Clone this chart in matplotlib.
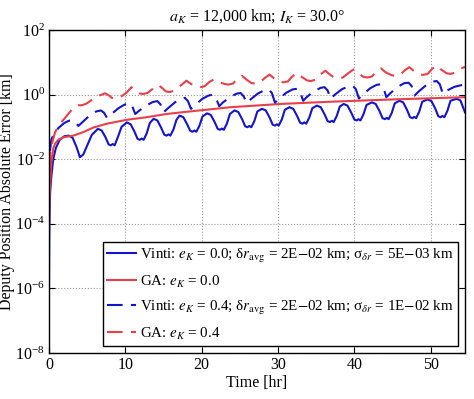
import numpy as np
import matplotlib
matplotlib.use("Agg")
import matplotlib.pyplot as plt
from matplotlib.ticker import FixedLocator, LogFormatterSciNotation

plt.rcParams['font.family'] = ['Liberation Serif', 'DejaVu Serif']
plt.rcParams['mathtext.fontset'] = 'stix'

# values: time [hr], log10 of error [km]
t_vinti0 = [0.0, 0.03, 0.08, 0.15, 0.3, 0.55, 0.9, 1.4, 2.0, 2.6,
            3.1, 3.6, 4.05, 4.5, 5.0, 5.6, 6.4,
            6.9, 7.4, 7.8, 8.1, 8.35, 8.6, 9.0, 9.5, 10.2,
            10.7, 11.2, 11.6, 11.9, 12.15, 12.4, 12.8, 13.2, 13.7,
            14.2, 14.7, 15.1, 15.4, 15.65, 15.9, 16.3, 16.7, 17.1,
            17.6, 18.1, 18.5, 18.8, 19.05, 19.3, 19.7, 20.1, 20.7,
            21.2, 21.7, 22.1, 22.4, 22.65, 22.9, 23.3, 23.7, 24.3,
            24.8, 25.3, 25.7, 26.0, 26.25, 26.5, 26.9, 27.3, 27.9,
            28.4, 28.9, 29.3, 29.6, 29.85, 30.1, 30.5, 30.9, 31.5,
            32.0, 32.5, 32.9, 33.2, 33.45, 33.7, 34.1, 34.5, 35.1,
            35.6, 36.1, 36.5, 36.8, 37.05, 37.3, 37.7, 38.1, 38.6,
            39.1, 39.6, 40.0, 40.3, 40.55, 40.8, 41.2, 41.6, 42.3,
            42.8, 43.3, 43.7, 44.0, 44.25, 44.5, 44.9, 45.3, 45.9,
            46.4, 46.9, 47.3, 47.6, 47.85, 48.1, 48.5, 48.9, 49.6,
            50.1, 50.6, 51.0, 51.3, 51.55, 51.8, 52.2, 52.6, 53.4,
            53.9, 54.5]
e_vinti0 = [-5.95, -4.5, -3.6, -3.0, -2.55, -2.0, -1.65, -1.40, -1.29, -1.27,
            -1.34, -1.62, -1.94, -1.85, -1.58, -1.25, -1.06,
            -1.11, -1.32, -1.54, -1.57, -1.53, -1.57, -1.33, -1.00, -0.86,
            -0.92, -1.15, -1.37, -1.40, -1.36, -1.40, -1.20, -0.88, -0.75,
            -0.80, -1.03, -1.24, -1.27, -1.23, -1.27, -1.08, -0.78, -0.65,
            -0.70, -0.92, -1.12, -1.15, -1.11, -1.15, -0.97, -0.68, -0.58,
            -0.63, -0.85, -1.06, -1.09, -1.05, -1.09, -0.90, -0.60, -0.49,
            -0.54, -0.76, -0.98, -1.01, -0.97, -1.01, -0.82, -0.52, -0.44,
            -0.49, -0.71, -0.93, -0.96, -0.92, -0.96, -0.77, -0.47, -0.39,
            -0.44, -0.66, -0.87, -0.90, -0.86, -0.90, -0.71, -0.42, -0.34,
            -0.39, -0.61, -0.82, -0.85, -0.81, -0.85, -0.66, -0.37, -0.29,
            -0.34, -0.56, -0.77, -0.80, -0.76, -0.80, -0.61, -0.32, -0.24,
            -0.29, -0.51, -0.73, -0.76, -0.72, -0.76, -0.57, -0.27, -0.19,
            -0.24, -0.47, -0.70, -0.73, -0.69, -0.73, -0.53, -0.22, -0.15,
            -0.20, -0.43, -0.67, -0.70, -0.66, -0.70, -0.50, -0.19, -0.13,
            -0.18, -0.55]

t_ga0 = [0.0, 0.05, 0.13, 0.3, 0.57, 0.8, 1.2, 1.9, 3.2, 4.5, 5.8, 7.6,
         10.2, 12.8, 15.4, 18.1, 23.8, 30.3, 36.9, 45.0, 54.5]
e_ga0 = [-4.15, -3.4, -2.85, -2.1, -1.65, -1.52, -1.40, -1.32, -1.27, -1.16,
         -1.02, -0.90, -0.78, -0.70, -0.60, -0.53, -0.39, -0.29, -0.22, -0.15, -0.08]

t_vinti4 = [0.0, 0.1, 0.3, 0.7, 1.3, 2.0, 2.6, 3.05, 3.45, 3.85,
            4.35, 5.35, 6.2, 6.8, 7.2, 7.6,
            8.1, 9.1, 9.9, 10.5, 10.9, 11.3,
            11.8, 12.8, 13.6, 14.2, 14.6, 15.0,
            15.5, 16.5, 17.3, 17.8, 18.2, 18.6,
            19.1, 20.1, 20.9, 21.5, 21.9, 22.3,
            22.8, 23.8, 24.6, 25.1, 25.5, 25.9,
            26.4, 27.4, 28.2, 28.8, 29.2, 29.6,
            30.1, 31.1, 31.9, 32.5, 32.9, 33.3,
            33.8, 34.8, 35.6, 36.1, 36.5, 36.9,
            37.4, 38.4, 39.2, 39.8, 40.2, 40.6,
            41.1, 42.1, 42.9, 43.4, 43.8, 44.2,
            44.7, 45.7, 46.5, 47.1, 47.5, 47.9,
            48.4, 49.4, 50.2, 50.8, 51.2, 51.6,
            52.1, 53.1, 54.5]
e_vinti4 = [-2.5, -1.8, -1.4, -1.18, -1.02, -0.88, -0.81, -0.80, -0.86, -0.97,
            -0.86, -0.64, -0.52, -0.49, -0.56, -0.72,
            -0.62, -0.42, -0.31, -0.26, -0.36, -0.60,
            -0.50, -0.33, -0.23, -0.20, -0.30, -0.55,
            -0.44, -0.24, -0.13, -0.10, -0.20, -0.44,
            -0.33, -0.13, -0.03, 0.00, -0.12, -0.36,
            -0.24, -0.06, 0.03, 0.05, -0.05, -0.26,
            -0.15, 0.04, 0.13, 0.16, 0.05, -0.25,
            -0.13, 0.06, 0.16, 0.18, 0.08, -0.19,
            -0.07, 0.12, 0.21, 0.23, 0.13, -0.13,
            -0.01, 0.17, 0.25, 0.27, 0.17, -0.12,
            0.00, 0.20, 0.30, 0.32, 0.22, -0.08,
            0.04, 0.24, 0.35, 0.37, 0.27, -0.03,
            0.09, 0.29, 0.40, 0.42, 0.32, 0.02,
            0.12, 0.24, 0.32]

t_ga4 = [0.0, 0.05, 0.15, 0.35, 0.8, 1.4, 2.1, 2.8, 3.3, 3.8, 4.3, 4.9, 5.7, 6.6,
         7.35, 7.95, 8.2, 8.7, 9.3, 10.2, 10.8, 11.4, 11.8, 12.3, 12.9, 13.7,
         14.3, 14.9, 15.3, 15.8, 16.4, 17.4, 18.0, 18.6, 19.3, 19.8, 20.4, 21.0,
         21.6, 22.2, 23.0, 23.5, 24.1, 24.7, 25.3, 25.9, 26.5, 27.0, 27.6, 28.3,
         28.9, 29.5, 30.2, 30.7, 31.3, 31.9, 32.5, 33.1, 33.8, 34.3, 34.9, 35.6,
         36.2, 36.8, 37.4, 37.9, 38.5, 39.3, 39.9, 40.5, 41.2, 41.7, 42.3, 42.9,
         43.5, 44.1, 44.9, 45.4, 46.0, 46.6, 47.2, 47.8, 48.5, 49.0, 49.6, 50.2,
         50.8, 51.4, 52.1, 52.6, 53.2, 53.9, 54.5]
e_ga4 = [-3.0, -2.3, -1.85, -1.55, -1.16, -0.92, -0.72, -0.52, -0.38, -0.33, -0.33, -0.28, -0.15, -0.03,
         0.04, -0.04, -0.10, -0.12, -0.09, 0.07, 0.23, 0.12, 0.04, 0.02, 0.05, 0.20,
         0.30, 0.19, 0.10, 0.08, 0.12, 0.31, 0.43, 0.33, 0.25, 0.23, 0.26, 0.39,
         0.47, 0.39, 0.33, 0.31, 0.34, 0.49, 0.58, 0.46, 0.36, 0.34, 0.37, 0.52,
         0.62, 0.50, 0.40, 0.38, 0.41, 0.57, 0.67, 0.55, 0.44, 0.42, 0.46, 0.63,
         0.74, 0.62, 0.52, 0.50, 0.53, 0.68, 0.78, 0.66, 0.55, 0.53, 0.56, 0.71,
         0.81, 0.69, 0.60, 0.58, 0.61, 0.75, 0.85, 0.73, 0.63, 0.61, 0.64, 0.80,
         0.90, 0.77, 0.66, 0.64, 0.68, 0.80, 0.86]

labels = [r'Vinti: $e_K$ = 0.0; δ$r_{\rm avg}$ = 2E$-$02 km; σ$_{δr}$ = 5E$-$03 km',
          r'GA: $e_K$ = 0.0',
          r'Vinti: $e_K$ = 0.4; δ$r_{\rm avg}$ = 2E$-$02 km; σ$_{δr}$ = 1E$-$02 km',
          r'GA: $e_K$ = 0.4']

blue = '#1414c8'
red = '#e8404a'

fig = plt.figure(figsize=(4.74, 3.99), dpi=100)
ax = fig.add_axes([0.1034, 0.1153, 0.8776, 0.8095])

ax.plot(t_vinti0, 10 ** np.array(e_vinti0), color=blue, lw=1.5, label=labels[0])
ax.plot(t_ga0, 10 ** np.array(e_ga0), color=red, lw=1.5, label=labels[1])
ax.plot(t_vinti4, 10 ** np.array(e_vinti4), color=blue, lw=1.5, dashes=(7.5, 4), label=labels[2])
ax.plot(t_ga4, 10 ** np.array(e_ga4), color=red, lw=1.5, dashes=(7.5, 4), label=labels[3])

ax.set_yscale('log')
ax.set_xlim(0, 54.5)
ax.set_ylim(1e-8, 1e2)
ax.set_xticks([0, 10, 20, 30, 40, 50])
ax.yaxis.set_major_locator(FixedLocator([1e-8, 1e-6, 1e-4, 1e-2, 1e0, 1e2]))
ax.yaxis.set_minor_locator(FixedLocator([]))
ax.yaxis.set_major_formatter(LogFormatterSciNotation())
ax.tick_params(direction='in', top=True, right=True, labelsize=11.5, length=4, pad=3)
ax.grid(True, color='#999999', ls=':', lw=0.8)
for s in ax.spines.values():
    s.set_linewidth(1.0)

ax.set_title(r'$a_K$ = 12,000 km; $I_K$ = 30.0°', fontsize=11.5, pad=7)
ax.set_xlabel('Time [hr]', fontsize=11.5, labelpad=1)
ax.set_ylabel('Deputy Position Absolute Error [km]', fontsize=11.5, labelpad=0)

leg = ax.legend(loc='lower right', fontsize=10.8, frameon=True, fancybox=False,
                edgecolor='black', framealpha=1, handlelength=1.9, borderaxespad=0.45,
                labelspacing=0.6, handletextpad=0.3, borderpad=0.3)
leg.get_frame().set_linewidth(1.0)

fig.savefig('out.png', dpi=100)
